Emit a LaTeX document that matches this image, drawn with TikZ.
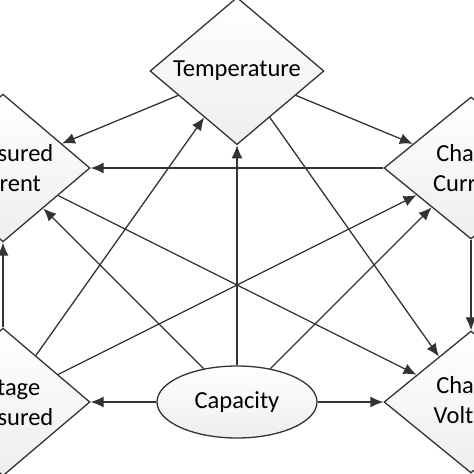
\documentclass[tikz,border=0pt]{standalone}
\usepackage{fontspec}
\setmainfont{Carlito}
\usetikzlibrary{shapes.geometric,arrows.meta}
\definecolor{ln}{HTML}{333333}
\definecolor{fillb}{HTML}{EEEEEE}
\begin{document}
\begin{tikzpicture}[x=1pt,y=-1pt,
  dia/.style={diamond,draw=ln,line width=1.3pt,minimum width=174pt,minimum height=142pt,inner sep=0pt,align=center,top color=white,bottom color=fillb,font=\fontsize{24.5}{30}\selectfont},
  ell/.style={ellipse,draw=ln,line width=1.3pt,minimum width=160pt,minimum height=72pt,inner sep=0pt,top color=white,bottom color=fillb,font=\fontsize{24.5}{30}\selectfont},
  arr/.style={draw=ln,line width=1.3pt,-{Latex[length=13pt,width=11pt]}}]
\useasboundingbox (0,0) rectangle (474,474);
\clip (0,0) rectangle (474,474);
\node[dia] (T) at (237,71) {Temperature};
\node[dia] (MC) at (3,168) {Measured\\Current};
\node[dia] (CC) at (471,168) {Charge\\Current};
\node[dia] (VM) at (3,402) {Voltage\\Measured};
\node[dia] (CV) at (471,402) {Charge\\Voltage};
\node[ell] (C) at (237,402) {Capacity};
\draw[arr] (T) -- (MC);
\draw[arr] (T) -- (CC);
\draw[arr] (T) -- (CV);
\draw[arr] (VM) -- (T);
\draw[arr] (C) -- (T);
\draw[arr] (C) -- (VM);
\draw[arr] (C) -- (CV);
\draw[arr] (C) -- (MC);
\draw[arr] (C) -- (CC);
\draw[arr] (CC) -- (MC);
\draw[arr] (MC) -- (CV);
\draw[arr] (VM) -- (CC);
\draw[arr] (VM) -- (MC);
\draw[arr] (CC) -- (CV);
\end{tikzpicture}
\end{document}
